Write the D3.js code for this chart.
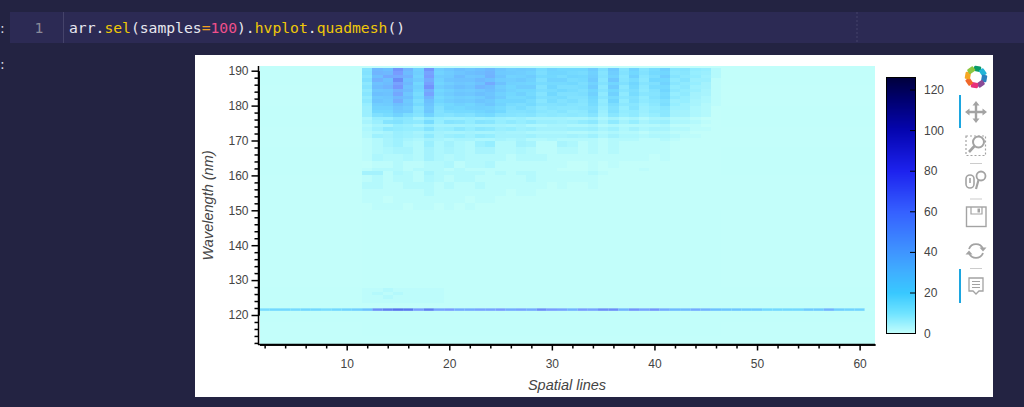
<!DOCTYPE html>
<html>
<head>
<meta charset="utf-8">
<script src="https://cdn.jsdelivr.net/npm/d3@7"></script>
<style>
html, body { margin:0; padding:0; background:#232342; overflow:hidden; }
</style>
</head>
<body>
<div class="svg-canvas"></div>
<script>
// Tick labels
var xMajor = [10, 20, 30, 40, 50, 60];
var xMinor = [2, 4, 6, 8, 12, 14, 16, 18, 22, 24, 26, 28, 32, 34, 36, 38, 42, 44, 46, 48, 52, 54, 56, 58];
var yMajor = [120, 130, 140, 150, 160, 170, 180, 190];
var yMinor = [112, 114, 116, 118, 122, 124, 126, 128, 132, 134, 136, 138, 142, 144, 146, 148, 152, 154, 156, 158, 162, 164, 166, 168, 172, 174, 176, 178, 182, 184, 186, 188];
var cbarTicks = [0, 20, 40, 60, 80, 100, 120];

// Spatial lines, all columns and the bright block
var spatialLines = [2,3,4,5,6,7,8,9,10,11,12,13,14,15,16,17,18,19,20,21,22,23,24,25,26,27,28,29,30,31,32,33,34,35,36,37,38,39,40,41,42,43,44,45,46,47,48,49,50,51,52,53,54,55,56,57,58,59,60,61];
var blockLines = [12,13,14,15,16,17,18,19,20,21,22,23,24,25,26,27,28,29,30,31,32,33,34,35,36,37,38,39,40,41,42,43,44,45,46];

// Background level for wide wavelength bands (top edge, outside / inside the block)
var bgTops = [191.4,186,180,174,168,160,150,140,130,128,124,122,118,114];
var bgOutside = [1.2,1.0,1.3,1.0,1.2,1.0,1.1,0.9,1.0,1.2,1.3,1.2,1.0,0.9];
var bgInside = [1.2,1.0,1.3,1.0,1.2,1.0,1.4,1.2,1.2,1.2,1.5,1.5,1.2,1.0];

// Top edge of every row of the bright block, last one closes the block
var blockTops = [190.8,189.8,188.8,187.8,186.8,185.8,184.8,183.8,182.8,181.8,180.8,179.8,178.8,177.8,176.8,175.8,174.8,173.8,172.8,171.8,170.8,169.8,168,166,164,162,161.2,160,158,156,154,152,150];
var blockValues = [
 [14,32,30,42,33,23,42,24,27,30,28,30,32,27,24,25,24,18,22,20,20,20,25,16,26,14,22,14,18,23,13,14,10,9,3],
 [15,33,32,40,31,24,38,22,25,28,30,31,33,26,25,24,22,17,21,21,19,18,23,14,24,15,20,15,19,21,12,13,9,8,3],
 [13,30,36,36,34,22,40,25,26,31,27,28,34,28,22,23,25,19,20,18,21,20,24,15,22,13,23,13,17,24,14,12,10,7,3],
 [16,34,30,44,30,25,36,23,28,29,29,32,30,25,24,26,23,16,22,22,18,19,26,13,27,14,18,12,20,20,11,14,8,8,2],
 [12,29,31,38,32,20,39,21,24,27,26,29,36,29,23,22,21,18,19,19,20,17,22,15,21,16,21,14,16,22,13,11,9,6,2],
 [14,31,33,41,29,23,42,24,27,30,28,33,31,24,21,24,24,15,21,17,17,18,25,12,25,12,19,12,18,19,10,12,7,6,2],
 [11,27,28,34,31,21,35,20,23,26,25,27,30,26,22,20,20,17,18,20,18,16,21,14,20,14,17,11,15,21,12,10,8,5,2],
 [13,30,29,37,27,18,38,22,25,28,27,30,28,23,20,23,19,14,20,16,16,17,23,11,23,11,18,13,14,18,9,11,6,5,2],
 [10,26,27,32,30,20,33,19,22,24,23,25,29,25,19,19,21,16,17,18,15,15,20,13,18,13,15,10,15,19,11,9,6,4,2],
 [12,28,26,35,26,17,30,21,24,26,25,28,26,21,21,21,18,13,18,15,17,14,19,10,21,10,16,11,13,16,8,9,5,4,2],
 [9,24,25,30,27,19,28,18,20,23,21,24,27,22,18,17,19,15,15,16,14,13,18,11,17,12,13,9,12,17,9,7,5,3,2],
 [8,22,22,27,24,15,26,16,21,20,22,23,22,19,16,18,15,12,14,13,13,14,16,9,15,9,14,8,10,13,7,7,4,3,1],
 [8,20,20,26,25,16,27,15,18,19,19,21,23,20,15,15,16,13,12,14,11,12,17,8,16,10,11,8,11,12,6,6,4,3,1],
 [8,16,18,22,17,14,22,15,14,16,15,18,19,15,14,13,14,11,12,11,12,11,14,7,13,9,11,7,9,12,6,6,4,3,1],
 [4,9,9,13,12,7,11,9,8,8,9,8,9,8,7,8,6,6,6,6,5,5,7,4,6,4,5,3,5,5,3,3,2,1,1],
 [5,8,14,15,12,11,18,9,14,13,10,14,13,9,11,9,11,8,8,7,8,10,12,6,11,6,9,5,7,8,4,4,3,2,1],
 [3,5,5,9,8,5,8,6,6,6,7,6,6,6,5,6,4,4,5,5,4,4,5,3,4,3,3,3,3,4,2,2,2,1,1],
 [4,7,11,10,9,9,14,8,9,12,9,12,11,8,9,7,8,6,6,6,7,7,8,5,7,4,6,4,5,5,3,3,2,2,1],
 [3,4,5,8,7,5,7,6,5,5,6,5,5,6,5,5,4,4,4,4,3,3,4,3,4,3,3,2,3,3,2,2,1,1,1],
 [3,7,6,8,7,6,11,6,8,9,7,10,9,6,6,6,7,5,5,5,6,5,7,4,6,4,4,3,4,4,3,2,2,1,1],
 [2,3,5,7,5,4,6,5,4,5,5,4,4,5,4,5,3,3,4,3,3,3,3,2,3,3,3,2,2,3,2,1,1,1,1],
 [2,3,5,7,4,3,8,4,6,4,3,7,9,3,3,6,5,2,2,5,4,2,3,2,3,2,2,2,2,2,1,1,1,1,1],
 [2,3,4,5,5,3,6,4,5,4,3,5,5,3,3,4,3,2,2,3,3,2,3,2,3,2,2,2,2,2,1,1,1,1,1],
 [2,4,3,3,4,3,6,4,3,4,3,3,3,3,2,3,3,3,2,2,2,2,2,2,2,2,2,2,1,2,1,1,1,1,1],
 [1,2,2,3,2,2,3,3,4,2,3,3,4,2,2,2,2,2,2,2,1,1,2,1,2,1,1,1,1,1,1,1,1,1,1],
 [2,3,3,3,2,3,3,3,2,3,2,2,2,2,2,2,2,2,2,1,1,1,2,1,1,1,1,2,1,1,1,1,1,1,1],
 [6,6,2,4,3,2,5,3,3,3,3,3,2,3,2,3,3,2,2,2,2,2,3,2,1,1,1,1,1,1,1,1,1,1,1],
 [2,3,2,3,3,2,4,3,2,3,3,2,2,2,2,2,3,2,2,2,2,2,2,1,1,1,1,1,1,1,1,1,1,1,1],
 [3,3,2,2,3,3,3,2,3,2,2,3,2,2,2,2,2,2,1,2,1,1,2,1,1,1,1,1,1,1,1,1,1,1,1],
 [2,2,2,2,2,2,3,2,2,2,2,2,2,2,1,2,2,1,1,1,1,1,1,1,1,1,1,1,1,1,1,1,1,1,1],
 [2,2,1,2,2,2,2,2,2,2,1,2,2,1,1,1,1,1,1,1,1,1,1,1,1,1,1,1,1,1,1,1,1,1,1],
 [1,2,2,2,1,2,2,1,2,1,2,1,1,1,1,1,1,1,1,1,1,1,1,1,1,1,1,1,1,1,1,1,1,1,1]
];

// Faint patch just above the bright line
var patchTops = [127.6,126.6,125.6,124.6,123.4];
var patchLines = [12,13,14,15,16,17,18,19];
var patchValues = [
 [2,2,3,2,2,2,2,2],
 [2,3,2,3,2,2,2,2],
 [2,2,3,2,2,2,2,2],
 [2,2,2,2,2,2,2,2]
];

// The bright line at 121.5 nm, one value per spatial line
var lineTop = 121.9, lineBottom = 121.2;
var lineValues = [18,20,20,19,21,20,18,20,22,24,30,44,48,52,50,40,48,38,40,36,36,38,38,40,36,38,36,44,40,38,34,40,38,44,44,34,42,38,42,36,32,32,36,34,30,28,28,26,26,20,20,20,20,26,26,34,24,22,22,1];

// Colour ramps: the mesh looks paler than the bar because its rows are thin
var rampValues = [0, 3, 10, 20, 30, 40, 60, 80, 100, 115, 127];
var rampColors = ["#c4fffb", "#aaf6fd", "#6fe3ff", "#38c8ff", "#3fb0ff", "#3f95ff", "#3560ff", "#1d22ee", "#0505b0", "#000070", "#000038"];
var meshValues = [0, 1.5, 3, 5, 10, 20, 30, 40, 50, 60];
var meshColors = ["#c4fffa", "#c2fefa", "#b4f9fc", "#a8f4fd", "#92ecff", "#72d8ff", "#6cc0ff", "#789cff", "#5a76ee", "#4a5ce6"];

// Canvas dims
var width = 1024, height = 407;

var svg = d3.select(".svg-canvas").append("svg")
    .attr("width", width)
    .attr("height", height)
    .style("display", "block");

// Notebook cell
svg.append("rect").attr("width", width).attr("height", height).attr("fill", "#232342");
svg.append("rect").attr("x", 10).attr("y", 12).attr("width", 1014).attr("height", 31).attr("fill", "#2c2a54");
svg.append("rect").attr("x", 63).attr("y", 12).attr("width", 1).attr("height", 31).attr("fill", "#45436a");
svg.append("line").attr("x1", 857).attr("x2", 857).attr("y1", 12).attr("y2", 43)
    .attr("stroke", "#45436a").attr("stroke-dasharray", "2,2");
svg.selectAll("text.prompt").data([33, 69]).enter().append("text")
    .attr("class", "prompt")
    .attr("x", 0).attr("y", function(d){ return d; })
    .attr("fill", "#d8d8e0")
    .style("font", "14px 'DejaVu Sans'")
    .text(":");
svg.append("text").attr("x", 39).attr("y", 33).attr("text-anchor", "middle")
    .attr("fill", "#8a8a9a").style("font", "14.7px 'DejaVu Sans Mono'").text("1");

var code = svg.append("text").attr("x", 69).attr("y", 33)
    .style("font", "14.7px 'DejaVu Sans Mono'").attr("xml:space", "preserve");
var codeParts = [["arr.", "#e8e8f0"], ["sel", "#f0c808"], ["(samples", "#e8e8f0"], ["=", "#f0a020"], ["100", "#f0508c"],
                 [").", "#e8e8f0"], ["hvplot", "#f0c808"], [".", "#e8e8f0"], ["quadmesh", "#f0c808"], ["()", "#e8e8f0"]];
code.selectAll("tspan").data(codeParts).enter().append("tspan")
    .attr("fill", function(d){ return d[1]; })
    .text(function(d){ return d[0]; });

// Plot panel
svg.append("rect").attr("x", 195).attr("y", 55).attr("width", 798).attr("height", 342).attr("fill", "#ffffff");

// Scales
var x = d3.scaleLinear().domain([1.5, 61.5]).range([259.5, 875]);
var y = d3.scaleLinear().domain([120, 190]).range([315, 70.7]);
var color = d3.scaleLinear().domain(rampValues).range(rampColors);
var meshColor = d3.scaleLinear().domain(meshValues).range(meshColors).clamp(true);

var mesh = svg.append("g");

function addCells(cells, rendering) {
    mesh.append("g").attr("shape-rendering", rendering).selectAll("rect").data(cells).enter().append("rect")
        .attr("x", function(d){ return x(d.line - 0.5); })
        .attr("width", function(d){ return x(d.line + 0.5) - x(d.line - 0.5); })
        .attr("y", function(d){ return y(d.top); })
        .attr("height", function(d){ return y(d.bottom) - y(d.top); })
        .attr("fill", function(d){ return meshColor(d.value); });
}

// Background bands
var bgCells = [];
bgTops.forEach(function(top, r){
    var bottom = r + 1 < bgTops.length ? bgTops[r + 1] : y.invert(344.5);
    spatialLines.forEach(function(line){
        var inside = line >= 12 && line <= 46;
        bgCells.push({line: line, top: top, bottom: bottom, value: inside ? bgInside[r] : bgOutside[r]});
    });
});
addCells(bgCells, "crispEdges");

// Bright block
var blockCells = [];
blockValues.forEach(function(row, r){
    row.forEach(function(v, c){
        blockCells.push({line: blockLines[c], top: blockTops[r], bottom: blockTops[r + 1], value: v});
    });
});
addCells(blockCells, "crispEdges");

// Patch above the line
var patchCells = [];
patchValues.forEach(function(row, r){
    row.forEach(function(v, c){
        patchCells.push({line: patchLines[c], top: patchTops[r], bottom: patchTops[r + 1], value: v});
    });
});
addCells(patchCells, "crispEdges");

// Bright line, left soft so it blurs over two or three pixels
addCells(lineValues.map(function(v, i){
    return {line: spatialLines[i], top: lineTop, bottom: lineBottom, value: v};
}), "auto");

// Axes
var axisY = 344.5, axisX = 258.5;
var labelStyle = "12px 'Liberation Sans'";

function styleAxis(g) {
    g.selectAll("path").attr("stroke", "#000").attr("stroke-width", 1.5);
    g.selectAll("line").attr("stroke", "#000").attr("stroke-width", 1.5);
    g.selectAll("text").attr("fill", "#444").style("font", labelStyle);
}

svg.append("g").attr("transform", "translate(0," + axisY + ")")
    .call(d3.axisBottom(x).tickValues(xMajor).tickSize(6).tickPadding(9).tickSizeOuter(0)).call(styleAxis);
svg.append("g").attr("transform", "translate(0," + axisY + ")")
    .call(d3.axisBottom(x).tickValues(xMinor).tickSize(4).tickFormat("").tickSizeOuter(0)).call(styleAxis);
svg.append("g").attr("transform", "translate(" + axisX + ",0)")
    .call(d3.axisLeft(y).tickValues(yMajor).tickSize(7).tickPadding(3).tickSizeOuter(0)).call(styleAxis);
svg.append("g").attr("transform", "translate(" + axisX + ",0)")
    .call(d3.axisLeft(y).tickValues(yMinor).tickSize(4).tickFormat("").tickSizeOuter(0)).call(styleAxis);

// Axes lines run the whole frame
svg.append("line").attr("x1", 258).attr("x2", 875).attr("y1", axisY).attr("y2", axisY).attr("stroke", "#000").attr("stroke-width", 1.5);
svg.append("line").attr("x1", axisX).attr("x2", axisX).attr("y1", 66).attr("y2", 345).attr("stroke", "#000").attr("stroke-width", 1.5);

svg.append("text").attr("x", 567).attr("y", 390).attr("text-anchor", "middle")
    .attr("fill", "#444").style("font", "italic 14.5px 'Liberation Sans'").text("Spatial lines");
svg.append("text").attr("transform", "translate(212.5,205.5) rotate(-90)").attr("text-anchor", "middle")
    .attr("fill", "#444").style("font", "italic 14.5px 'Liberation Sans'").text("Wavelength (nm)");

// Colour bar
var cbarY = d3.scaleLinear().domain([0, 120]).range([333.6, 90]);
var cbarTop = 77.5, cbarBottom = 333.5;
var cbarSteps = d3.range(cbarBottom, cbarTop, -1);
svg.append("g").attr("shape-rendering", "crispEdges").selectAll("rect").data(cbarSteps).enter().append("rect")
    .attr("x", 886.5).attr("width", 29)
    .attr("y", function(d){ return d - 1; }).attr("height", 1.2)
    .attr("fill", function(d){ return color(cbarY.invert(d)); });
svg.append("rect").attr("x", 886.5).attr("y", cbarTop).attr("width", 29).attr("height", cbarBottom - cbarTop)
    .attr("fill", "none").attr("stroke", "#000").attr("stroke-width", 1);
svg.append("g").selectAll("line").data(cbarTicks.slice(1)).enter().append("line")
    .attr("x1", 910).attr("x2", 915)
    .attr("y1", function(d){ return cbarY(d); }).attr("y2", function(d){ return cbarY(d); })
    .attr("stroke", "#000");
svg.append("g").selectAll("text").data(cbarTicks).enter().append("text")
    .attr("x", 924).attr("y", function(d){ return cbarY(d) + 4; })
    .attr("fill", "#444").style("font", labelStyle)
    .text(function(d){ return d; });

// Toolbar
var grey = "#a3a3a3";
var bar = svg.append("g");
[[95, 33], [269, 34]].forEach(function(b){
    bar.append("rect").attr("x", 959).attr("y", b[0]).attr("width", 2).attr("height", b[1]).attr("fill", "#1ca6e0");
});
[163, 198.5, 268].forEach(function(s){
    bar.append("rect").attr("x", 970).attr("y", s).attr("width", 12).attr("height", 1).attr("fill", "#cccccc");
});

// Logo ring
var logoColors = ["#0a9a6a", "#22b4d8", "#2a7fbf", "#8a4a96", "#e8307a", "#f0682a", "#f5a623", "#8cc63f"];
var logo = bar.append("g").attr("transform", "translate(976,77)");
logo.selectAll("rect").data(logoColors).enter().append("rect")
    .attr("x", -3.6).attr("y", -11).attr("width", 7.2).attr("height", 5.4).attr("rx", 1.2)
    .attr("fill", function(d){ return d; })
    .attr("transform", function(d, i){ return "rotate(" + (i * 45 + 10) + ")"; });

// Pan
var pan = bar.append("g").attr("transform", "translate(976,112)").attr("stroke", grey).attr("fill", grey);
pan.append("path").attr("d", "M-8,0H8M0,-8V8").attr("stroke-width", 2.4).attr("fill", "none");
pan.append("path").attr("stroke", "none").attr("d", "M0,-11L3.5,-6.5H-3.5ZM0,11L3.5,6.5H-3.5ZM-11,0L-6.5,-3.5V3.5ZM11,0L6.5,-3.5V3.5Z");

// Box zoom
var box = bar.append("g").attr("transform", "translate(976,145)").attr("stroke", grey).attr("fill", "none");
box.append("rect").attr("x", -10).attr("y", -9).attr("width", 19.5).attr("height", 19.5).attr("stroke-dasharray", "2,2").attr("stroke-width", 1.2);
box.append("circle").attr("cx", 2.5).attr("cy", -3).attr("r", 5.5).attr("stroke-width", 2).attr("fill", "#fff");
box.append("path").attr("d", "M-1.5,1L-7,7").attr("stroke-width", 2.6);

// Wheel zoom
var wheel = bar.append("g").attr("transform", "translate(976,180)").attr("stroke", grey).attr("fill", "none");
wheel.append("rect").attr("x", -10).attr("y", -5).attr("width", 8).attr("height", 13).attr("rx", 4).attr("stroke-width", 1.6);
wheel.append("path").attr("d", "M-6,-2V3").attr("stroke-width", 1.6);
wheel.append("circle").attr("cx", 5).attr("cy", -4).attr("r", 4.5).attr("stroke-width", 1.8);
wheel.append("path").attr("d", "M2.5,0L0,9").attr("stroke-width", 2.2);

// Save
var save = bar.append("g").attr("transform", "translate(976,217)").attr("stroke", grey).attr("fill", "none");
save.append("rect").attr("x", -9.5).attr("y", -10).attr("width", 19.5).attr("height", 19.5).attr("stroke-width", 1.4);
save.append("path").attr("d", "M-5,-10V-3H6V-10").attr("stroke-width", 1.2);
save.append("rect").attr("x", 1.5).attr("y", -8.5).attr("width", 2.5).attr("height", 4).attr("fill", grey).attr("stroke", "none");

// Reset
var reset = bar.append("g").attr("transform", "translate(976,251)").attr("stroke", grey).attr("fill", "none").attr("stroke-width", 1.8);
reset.append("path").attr("d", "M-7,-2A7.5,7.5 0 0 1 7,-2");
reset.append("path").attr("d", "M7,2A7.5,7.5 0 0 1 -7,2");
reset.append("path").attr("d", "M3.5,-3.5H10.5L7,0.5ZM-3.5,3.5H-10.5L-7,-0.5Z").attr("fill", grey).attr("stroke", "none");

// Hover
var hover = bar.append("g").attr("transform", "translate(976,286)").attr("stroke", grey).attr("fill", "none");
hover.append("path").attr("d", "M-7,-8H7V5H3L0,8L-3,5H-7Z").attr("stroke-width", 1.3);
hover.append("path").attr("d", "M-4,-4.5H4M-4,-1.5H4M-4,1.5H4").attr("stroke-width", 1.2);
</script>
</body>
</html>
